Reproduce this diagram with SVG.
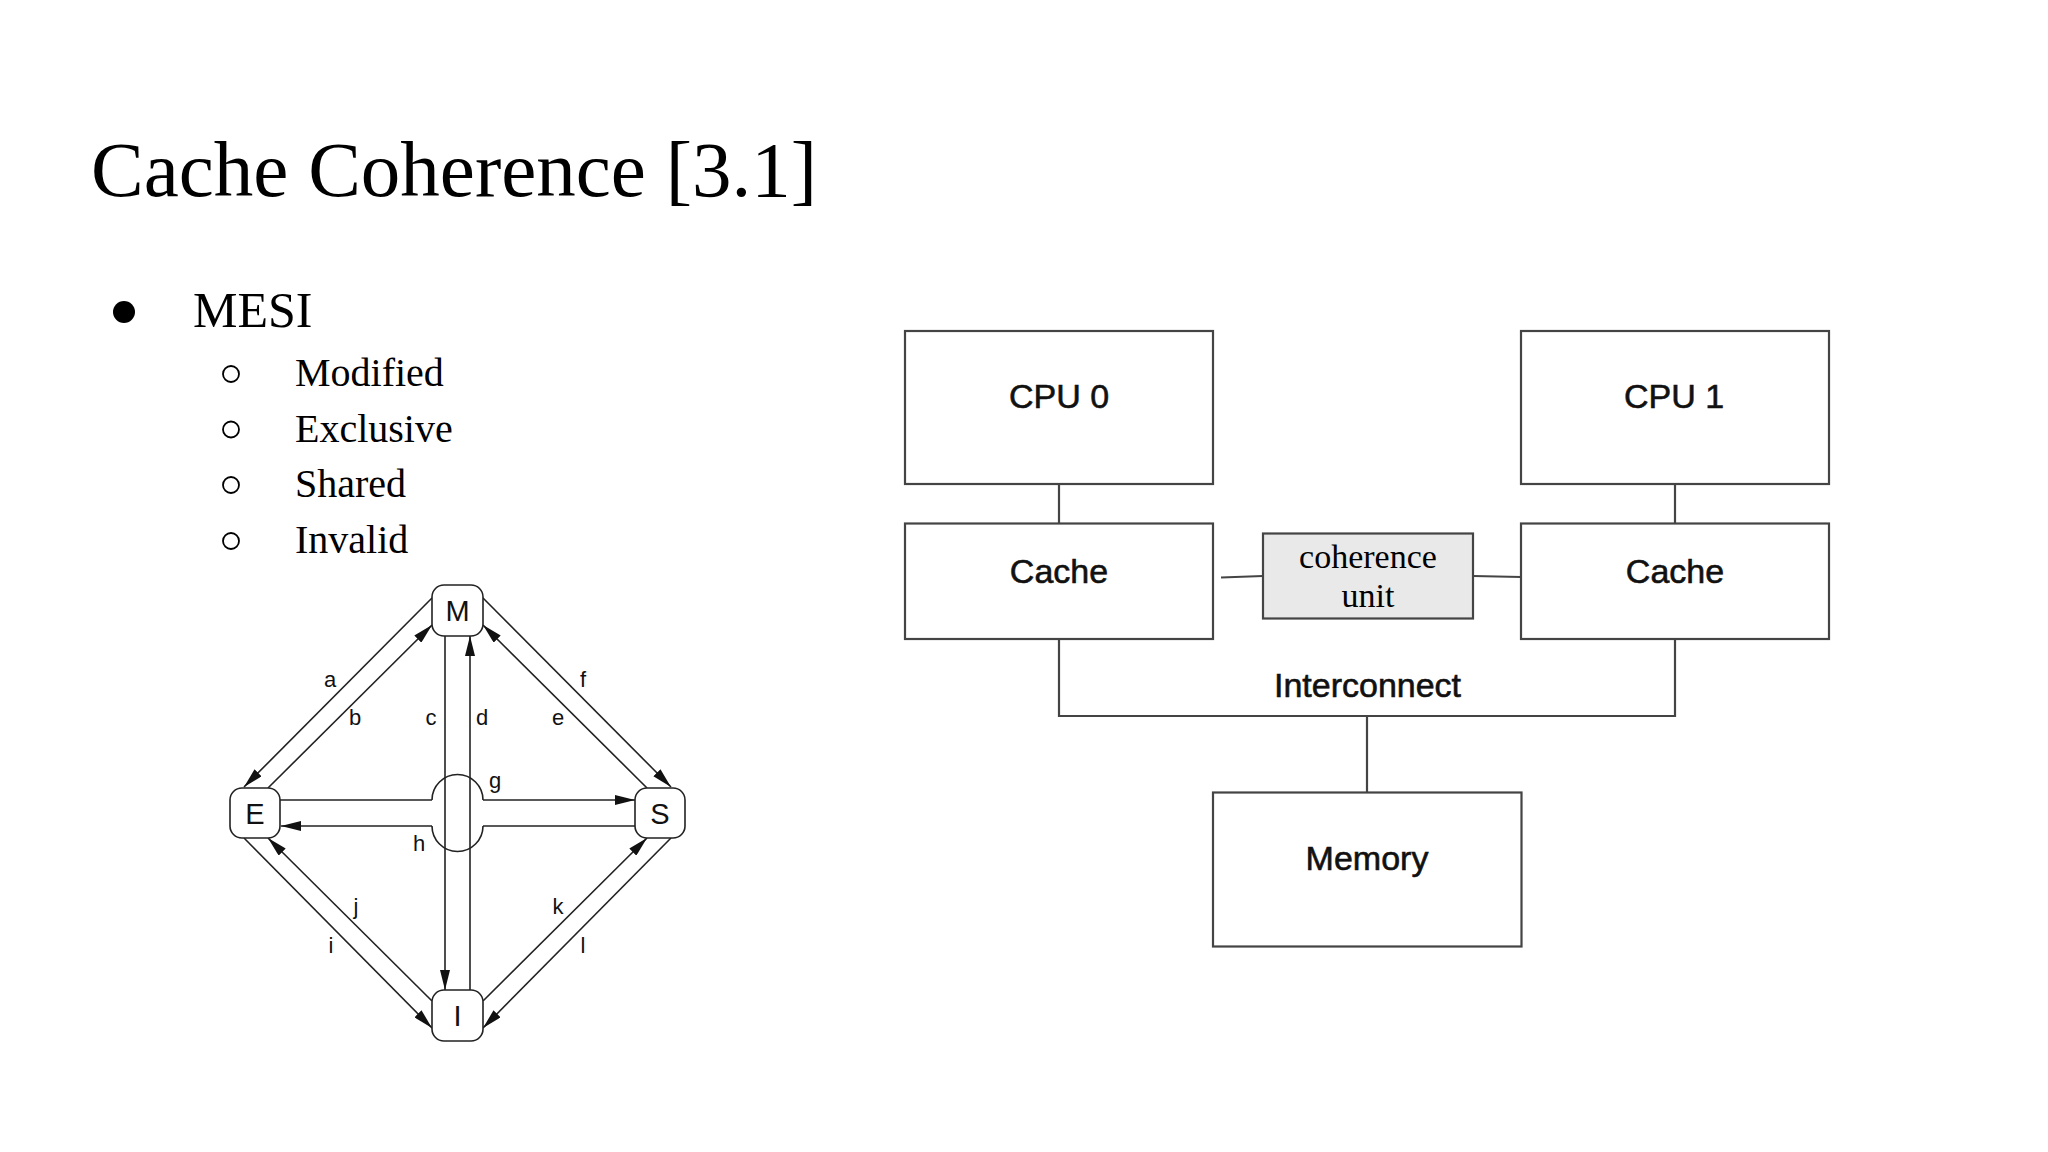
<svg xmlns="http://www.w3.org/2000/svg" width="2048" height="1152" viewBox="0 0 2048 1152">
<defs>
<style>
.serif{font-family:"Liberation Serif","Times New Roman",serif;fill:#000}
.node{fill:#fff;stroke:#222;stroke-width:1.6}
.st{fill:none;stroke:#222;stroke-width:1.6}
.box{fill:#fff;stroke:#444;stroke-width:2.2}
.wire{fill:none;stroke:#444;stroke-width:2.2}
.lbl{font-family:"Liberation Sans",Arial,sans-serif;font-size:22px;fill:#111;text-anchor:middle}
.nl{font-family:"Liberation Sans",Arial,sans-serif;font-size:29px;fill:#111;text-anchor:middle}
.bl{font-family:"Liberation Sans",Arial,sans-serif;font-size:34px;fill:#111;stroke:#111;stroke-width:0.6;text-anchor:middle}
</style>
<marker id="ah" markerUnits="userSpaceOnUse" markerWidth="20" markerHeight="10" refX="20" refY="5" orient="auto">
<path d="M0,0 L20,5 L0,10 z" fill="#111"/>
</marker>
</defs>
<rect width="2048" height="1152" fill="#fff"/>

<g id="title">
<text class="serif" x="91" y="196" font-size="79">Cache Coherence [3.1]</text>
</g>

<g id="bullets">
<circle cx="124" cy="312" r="11" fill="#000"/>
<text class="serif" x="193" y="327" font-size="50">MESI</text>
<circle cx="231" cy="374" r="8" fill="none" stroke="#000" stroke-width="1.8"/>
<circle cx="231" cy="429.5" r="8" fill="none" stroke="#000" stroke-width="1.8"/>
<circle cx="231" cy="485" r="8" fill="none" stroke="#000" stroke-width="1.8"/>
<circle cx="231" cy="541" r="8" fill="none" stroke="#000" stroke-width="1.8"/>
<text class="serif" x="295" y="386" font-size="40">Modified</text>
<text class="serif" x="295" y="441.5" font-size="40">Exclusive</text>
<text class="serif" x="295" y="497" font-size="40">Shared</text>
<text class="serif" x="295" y="552.5" font-size="40">Invalid</text>
</g>

<g id="mesi-connectors">
<line class="st" x1="432" y1="598" x2="244" y2="787" marker-end="url(#ah)"/>
<line class="st" x1="268" y1="788" x2="432" y2="625" marker-end="url(#ah)"/>
<line class="st" x1="483" y1="598" x2="671" y2="787" marker-end="url(#ah)"/>
<line class="st" x1="647" y1="788" x2="483" y2="625" marker-end="url(#ah)"/>
<line class="st" x1="244" y1="838" x2="432" y2="1028" marker-end="url(#ah)"/>
<line class="st" x1="432" y1="1001" x2="268" y2="838" marker-end="url(#ah)"/>
<line class="st" x1="671" y1="838" x2="483" y2="1028" marker-end="url(#ah)"/>
<line class="st" x1="483" y1="1001" x2="647" y2="838" marker-end="url(#ah)"/>
<line class="st" x1="445" y1="636" x2="445" y2="990" marker-end="url(#ah)"/>
<line class="st" x1="470" y1="990" x2="470" y2="636" marker-end="url(#ah)"/>
<path class="st" d="M280,800 L432,800"/>
<path class="st" d="M483,800 L635,800" marker-end="url(#ah)"/>
<path class="st" d="M483,826 L635,826"/>
<path class="st" d="M432,826 L281,826" marker-end="url(#ah)"/>
<path class="st" d="M432,800 A25.5,25.5 0 0 1 483,800"/>
<path class="st" d="M432,826 A25.5,25.5 0 0 0 483,826"/>
<text class="lbl" x="330" y="687">a</text>
<text class="lbl" x="355" y="725">b</text>
<text class="lbl" x="431" y="725">c</text>
<text class="lbl" x="482" y="725">d</text>
<text class="lbl" x="558" y="725">e</text>
<text class="lbl" x="583" y="687">f</text>
<text class="lbl" x="495" y="788">g</text>
<text class="lbl" x="419" y="851">h</text>
<text class="lbl" x="331" y="953">i</text>
<text class="lbl" x="356" y="914">j</text>
<text class="lbl" x="558" y="914">k</text>
<text class="lbl" x="583" y="953">l</text>
</g>

<g id="node-M"><rect class="node" x="432" y="585" width="51" height="51" rx="12"/><text class="nl" x="457.5" y="621">M</text></g>
<g id="node-E"><rect class="node" x="230" y="788" width="50" height="50" rx="12"/><text class="nl" x="255" y="823.5">E</text></g>
<g id="node-S"><rect class="node" x="635" y="788" width="50" height="50" rx="12"/><text class="nl" x="660" y="823.5">S</text></g>
<g id="node-I"><rect class="node" x="432" y="990" width="51" height="51" rx="12"/><text class="nl" x="457.5" y="1026">I</text></g>

<g id="block-connectors">
<line class="wire" x1="1059" y1="484" x2="1059" y2="523.5"/>
<line class="wire" x1="1675" y1="484" x2="1675" y2="523.5"/>
<line class="wire" x1="1221" y1="577.5" x2="1263" y2="576"/>
<line class="wire" x1="1473" y1="576" x2="1521" y2="577"/>
<polyline class="wire" points="1059,639 1059,716 1675,716 1675,639"/>
<line class="wire" x1="1367" y1="716" x2="1367" y2="792.5"/>
<text class="bl" x="1367.5" y="697">Interconnect</text>
</g>

<g id="cpu0"><rect class="box" x="905" y="331" width="308" height="153"/><text class="bl" x="1059" y="408">CPU 0</text></g>
<g id="cpu1"><rect class="box" x="1521" y="331" width="308" height="153"/><text class="bl" x="1674" y="408">CPU 1</text></g>
<g id="cache0"><rect class="box" x="905" y="523.5" width="308" height="115.5"/><text class="bl" x="1059" y="583">Cache</text></g>
<g id="cache1"><rect class="box" x="1521" y="523.5" width="308" height="115.5"/><text class="bl" x="1675" y="583">Cache</text></g>
<g id="coherence-unit"><rect x="1263" y="533.5" width="210" height="85" fill="#e9e9e9" stroke="#444" stroke-width="2.2"/>
<text class="serif" x="1368" y="568" font-size="34" text-anchor="middle" fill="#111">coherence</text>
<text class="serif" x="1368" y="607" font-size="34" text-anchor="middle" fill="#111">unit</text></g>
<g id="memory"><rect class="box" x="1213" y="792.5" width="308.5" height="154"/><text class="bl" x="1367" y="870">Memory</text></g>
</svg>
